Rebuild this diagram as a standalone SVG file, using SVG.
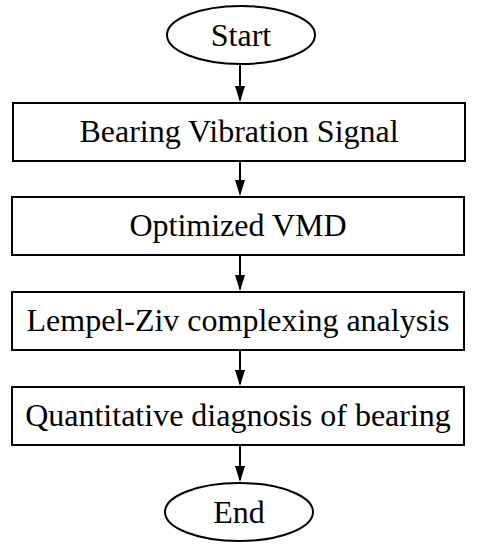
<svg xmlns="http://www.w3.org/2000/svg" width="479" height="550" viewBox="0 0 479 550">
<style>
.shape{fill:#fff;stroke:#000;stroke-width:2}
.lbl{font-family:"Liberation Serif","Times New Roman",serif;font-size:32px;fill:#000;text-anchor:middle}
.conn{stroke:#000;stroke-width:2;fill:none;marker-end:url(#ah)}
</style>
<defs>
<marker id="ah" markerUnits="userSpaceOnUse" markerWidth="16" markerHeight="11" refX="14" refY="5.5" orient="auto" viewBox="0 0 16 11">
<path d="M0,0.5 L16,5.5 L0,10.5 Z" fill="#000"/>
</marker>
</defs>
<rect width="479" height="550" fill="#fff"/>
<g id="connectors">
<path class="conn" d="M240,64 V100"/>
<path class="conn" d="M240,161 V194"/>
<path class="conn" d="M240,255 V289"/>
<path class="conn" d="M240,350 V384"/>
<path class="conn" d="M240,445 V480"/>
</g>
<g id="start">
<ellipse class="shape" cx="241" cy="35" rx="74" ry="29"/>
<text class="lbl" x="241" y="46">Start</text>
</g>
<g id="signal">
<rect class="shape" x="13" y="103" width="452" height="58"/>
<text class="lbl" x="239" y="142">Bearing Vibration Signal</text>
</g>
<g id="vmd">
<rect class="shape" x="12" y="197" width="452" height="58"/>
<text class="lbl" x="238" y="236">Optimized VMD</text>
</g>
<g id="lz">
<rect class="shape" x="12" y="292" width="452" height="58"/>
<text class="lbl" x="238" y="331">Lempel-Ziv complexing analysis</text>
</g>
<g id="diag">
<rect class="shape" x="12" y="387" width="452" height="58"/>
<text class="lbl" x="238" y="426">Quantitative diagnosis of bearing</text>
</g>
<g id="end">
<ellipse class="shape" cx="239" cy="512" rx="74" ry="29"/>
<text class="lbl" x="239" y="523">End</text>
</g>
</svg>
